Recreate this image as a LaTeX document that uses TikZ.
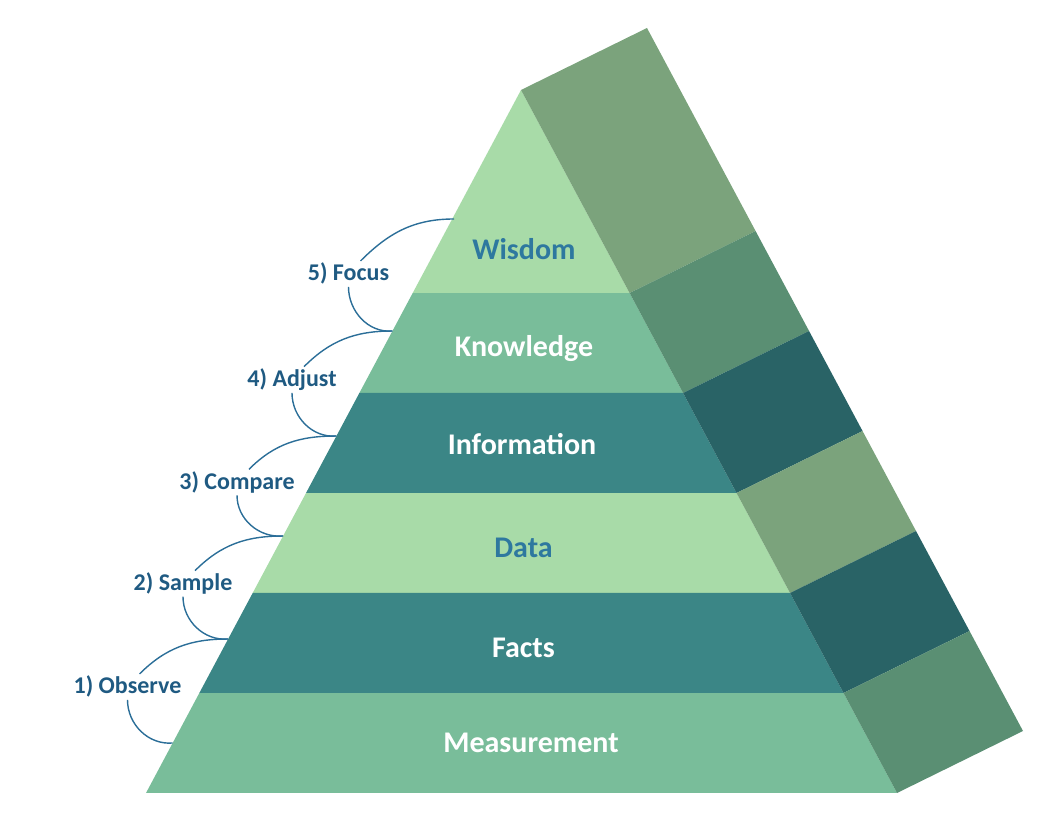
\documentclass[tikz,border=0pt]{standalone}
\usepackage{fontspec}
\setmainfont{Carlito}
\usetikzlibrary{calc}
\definecolor{palegrn}{HTML}{A8DBA8}
\definecolor{midgrn}{HTML}{79BD9A}
\definecolor{teal}{HTML}{3B8686}
\definecolor{sidegrey}{HTML}{7BA37C}
\definecolor{sidemid}{HTML}{5A8F73}
\definecolor{sideteal}{HTML}{296366}
\definecolor{lvlblue}{HTML}{2E789F}
\definecolor{lblblue}{HTML}{1F5A82}
\definecolor{loopblue}{HTML}{2B6E98}
\tikzset{
  lvl/.style={font=\bfseries\fontsize{30}{36}\selectfont,anchor=base},
  lbl/.style={font=\bfseries\fontsize{24}{28}\selectfont,text=lblblue,anchor=base,inner sep=2pt},
  loopline/.style={loopblue,line width=1.4pt}
}
\begin{document}
\begin{tikzpicture}[x=1pt,y=1pt]
\useasboundingbox (0,0) rectangle (1053,825);
\coordinate (apex) at (521,735);
\coordinate (bl) at (146,32);
\coordinate (br) at (897,32);
\coordinate (off) at (126,62);
% front bands and side bands
\foreach \a/\b/\fc/\sc in {0/0.2888/palegrn/sidegrey, 0.2888/0.4310/midgrn/sidemid,
  0.4310/0.5733/teal/sideteal, 0.5733/0.7155/palegrn/sidegrey,
  0.7155/0.8578/teal/sideteal, 0.8578/1/midgrn/sidemid}{
  \fill[\fc] ($(apex)!\a!(bl)$) -- ($(apex)!\a!(br)$) -- ($(apex)!\b!(br)$) -- ($(apex)!\b!(bl)$) -- cycle;
  \fill[\sc] ($(apex)!\a!(br)$) -- ($(apex)!\a!(br)+(off)$) -- ($(apex)!\b!(br)+(off)$) -- ($(apex)!\b!(br)$) -- cycle;
}
\node[lvl,text=lvlblue] (wisdom) at (524,565.7) {Wisdom};
\node[lvl,text=white] (knowledge) at (524,468.3) {Knowledge};
\node[lvl,text=white] (information) at (522,370.3) {Information};
\node[lvl,text=lvlblue] (data) at (523.5,267.3) {Data};
\node[lvl,text=white] (facts) at (523.5,167.3) {Facts};
\node[lvl,text=white] (measurement) at (531,72.3) {Measurement};
% steps on the left edge
\node[lbl] (focus) at (348.5,544) {5) Focus};
\node[lbl] (adjust) at (292,438.3) {4) Adjust};
\node[lbl] (compare) at (237,335.7) {3) Compare};
\node[lbl] (sample) at (183,234.3) {2) Sample};
\node[lbl] (observe) at (127.5,131) {1) Observe};
\coordinate (e5) at (454,606);
\coordinate (e4) at (392.4,494);
\coordinate (e3) at (336.4,389);
\coordinate (e2) at (283.1,289);
\coordinate (e1) at (228.1,186);
\coordinate (e0) at (172.7,82);
\foreach \l/\u/\d in {focus/e5/e4, adjust/e4/e3, compare/e3/e2, sample/e2/e1, observe/e1/e0}{
  \draw[loopline] (\u) to[out=180,in=45] ([xshift=12pt]\l.north);
  \draw[loopline] (\l.south) to[out=270,in=185] (\d);
}
\end{tikzpicture}
\end{document}
